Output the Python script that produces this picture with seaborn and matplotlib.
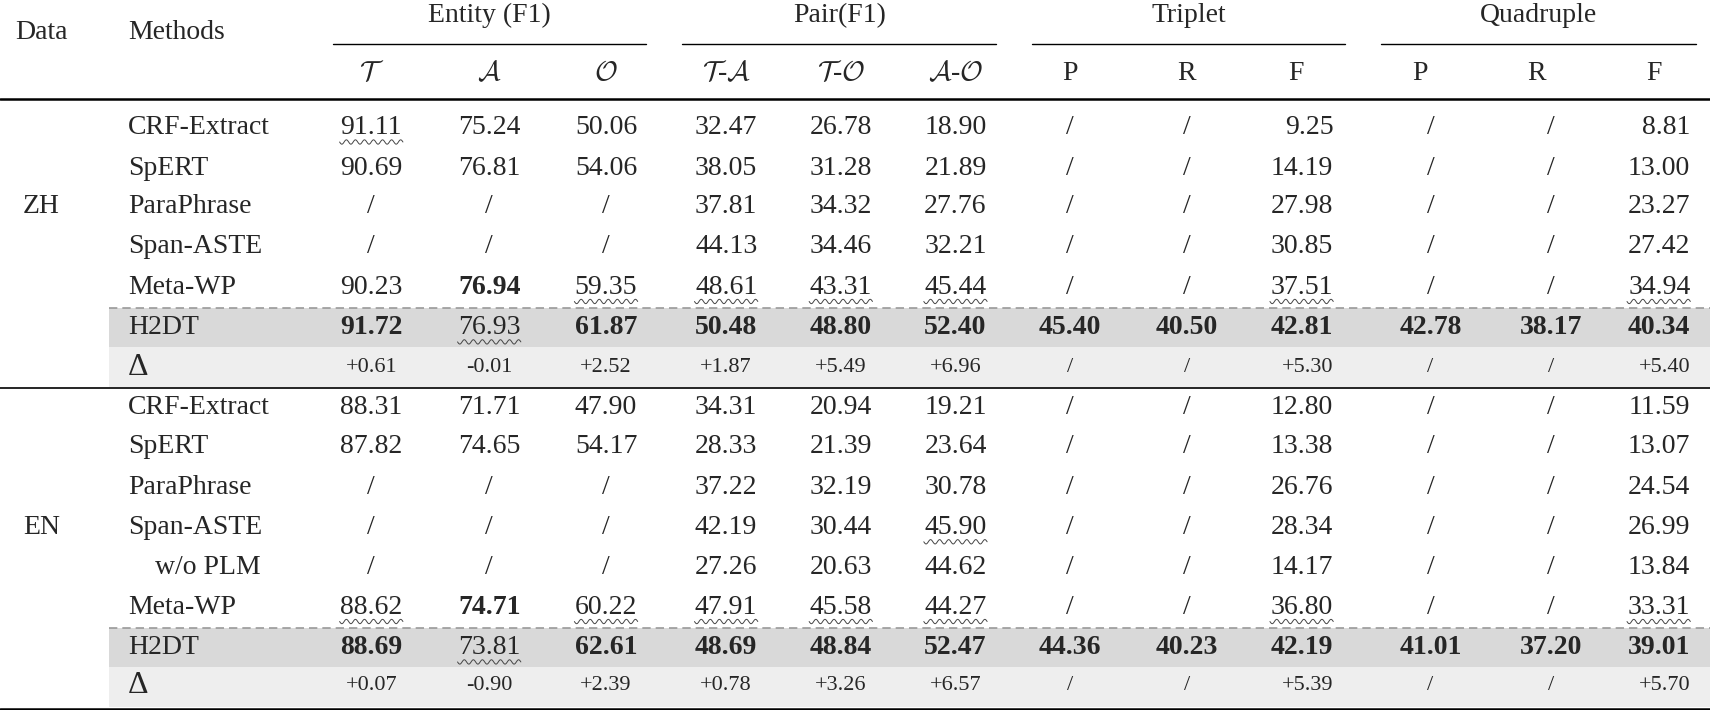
import numpy as np
import matplotlib
matplotlib.use("Agg")
import matplotlib.pyplot as plt
import seaborn as sns

sns.set_theme(style="white")
plt.rcParams['font.family'] = ['Liberation Serif', 'DejaVu Serif']
plt.rcParams['mathtext.fontset'] = 'cm'

# table content
groups = ["Entity (F1)", "Pair(F1)", "Triplet", "Quadruple"]
subheads = [r"$\mathcal{T}$", r"$\mathcal{A}$", r"$\mathcal{O}$",
            r"$\mathcal{T}$-$\mathcal{A}$", r"$\mathcal{T}$-$\mathcal{O}$", r"$\mathcal{A}$-$\mathcal{O}$",
            "P", "R", "F", "P", "R", "F"]

zh_methods = ["CRF-Extract", "SpERT", "ParaPhrase", "Span-ASTE", "Meta-WP", "H2DT", "Δ"]
zh_values = [
    ["91.11", "75.24", "50.06", "32.47", "26.78", "18.90", "/", "/", "9.25", "/", "/", "8.81"],
    ["90.69", "76.81", "54.06", "38.05", "31.28", "21.89", "/", "/", "14.19", "/", "/", "13.00"],
    ["/", "/", "/", "37.81", "34.32", "27.76", "/", "/", "27.98", "/", "/", "23.27"],
    ["/", "/", "/", "44.13", "34.46", "32.21", "/", "/", "30.85", "/", "/", "27.42"],
    ["90.23", "76.94", "59.35", "48.61", "43.31", "45.44", "/", "/", "37.51", "/", "/", "34.94"],
    ["91.72", "76.93", "61.87", "50.48", "48.80", "52.40", "45.40", "40.50", "42.81", "42.78", "38.17", "40.34"],
    ["+0.61", "-0.01", "+2.52", "+1.87", "+5.49", "+6.96", "/", "/", "+5.30", "/", "/", "+5.40"],
]
en_methods = ["CRF-Extract", "SpERT", "ParaPhrase", "Span-ASTE", "w/o PLM", "Meta-WP", "H2DT", "Δ"]
en_values = [
    ["88.31", "71.71", "47.90", "34.31", "20.94", "19.21", "/", "/", "12.80", "/", "/", "11.59"],
    ["87.82", "74.65", "54.17", "28.33", "21.39", "23.64", "/", "/", "13.38", "/", "/", "13.07"],
    ["/", "/", "/", "37.22", "32.19", "30.78", "/", "/", "26.76", "/", "/", "24.54"],
    ["/", "/", "/", "42.19", "30.44", "45.90", "/", "/", "28.34", "/", "/", "26.99"],
    ["/", "/", "/", "27.26", "20.63", "44.62", "/", "/", "14.17", "/", "/", "13.84"],
    ["88.62", "74.71", "60.22", "47.91", "45.58", "44.27", "/", "/", "36.80", "/", "/", "33.31"],
    ["88.69", "73.81", "62.61", "48.69", "48.84", "52.47", "44.36", "40.23", "42.19", "41.01", "37.20", "39.01"],
    ["+0.07", "-0.90", "+2.39", "+0.78", "+3.26", "+6.57", "/", "/", "+5.39", "/", "/", "+5.70"],
]
# (row, col) styling
zh_bold = [(4, 1)] + [(5, c) for c in range(12) if c != 1]
zh_wavy = [(0, 0), (4, 2), (4, 3), (4, 4), (4, 5), (4, 8), (4, 11), (5, 1)]
en_bold = [(5, 1)] + [(6, c) for c in range(12) if c != 1]
en_wavy = [(3, 5), (5, 0), (5, 2), (5, 3), (5, 4), (5, 5), (5, 8), (5, 11), (6, 1)]

# layout (in reference pixel units)
col_x = [340, 448, 555, 665, 770, 875, 980, 1087, 1221, 1310, 1420, 1548]
col_ha = ["center"] * 8 + ["right"] + ["center"] * 2 + ["right"]
sub_x = [340, 448, 555, 665, 770, 875, 980, 1087, 1187, 1300, 1407, 1515]
group_span = [(305, 592), (625, 912), (945, 1232), (1265, 1553)]
zh_y = [117, 154, 189, 226, 263, 300, 336]
en_y = [373, 409, 446, 483, 520, 556, 593, 628]
FS = 20
FS_SMALL = 16

fig = plt.figure(figsize=(17.1, 7.1), dpi=100)
ax = fig.add_axes([0, 0, 1, 1])
ax.set_xlim(0, 1566)
ax.set_ylim(650, 0)
ax.axis("off")

# shaded bands
for top, bot, c in [(282, 318, "#d9d9d9"), (318, 354, "#eeeeee"),
                    (575, 611, "#d9d9d9"), (611, 647, "#eeeeee")]:
    ax.axhspan(top, bot, xmin=100 / 1566, xmax=1, color=c, lw=0, zorder=0)

# rules
ax.plot([0, 1566], [91, 91], color="black", lw=1.8)
ax.plot([0, 1566], [355, 355], color="black", lw=1.2)
ax.plot([0, 1566], [649, 649], color="black", lw=1.8)
ax.plot([100, 1566], [282, 282], color="#999999", lw=1.2, ls=(0, (5, 3)))
ax.plot([100, 1566], [575, 575], color="#999999", lw=1.2, ls=(0, (5, 3)))

# headers
ax.text(38, 30, "Data", fontsize=FS, ha="center", va="center")
ax.text(117, 30, "Methods", fontsize=FS, ha="left", va="center")
for g, (x0, x1) in zip(groups, group_span):
    ax.text((x0 + x1) / 2, 14, g, fontsize=FS, ha="center", va="center")
    ax.plot([x0, x1], [40, 40], color="black", lw=1.0)
for s, x in zip(subheads, sub_x):
    ax.text(x, 67, s, fontsize=FS, ha="center", va="center")


def wavy(xc, ha, y, w=58):
    x0 = xc - w / 2 if ha == "center" else xc - w
    xs = np.linspace(x0, x0 + w, 120)
    ax.plot(xs, y + 13 + 2 * np.sin((xs - x0) / w * 2 * np.pi * 7), color="#444444", lw=0.7)


def block(label, label_y, methods, values, ys, bold, wavy_cells):
    ax.text(38, label_y, label, fontsize=FS, ha="center", va="center")
    for r, (m, row, y) in enumerate(zip(methods, values, ys)):
        indent = 142 if m.startswith("w/o") else 117
        ax.text(indent, y, m, fontsize=FS + 3 if m == "Δ" else FS, ha="left", va="center")
        small = m == "Δ"
        for c, v in enumerate(row):
            ax.text(col_x[c], y, v, fontsize=FS_SMALL if small else FS, ha=col_ha[c], va="center",
                    fontweight="bold" if (r, c) in bold else "normal")
            if (r, c) in wavy_cells:
                wavy(col_x[c], col_ha[c], y)


block("ZH", 189, zh_methods, zh_values, zh_y, zh_bold, zh_wavy)
block("EN", 483, en_methods, en_values, en_y, en_bold, en_wavy)

fig.savefig("out.png", dpi=100)
